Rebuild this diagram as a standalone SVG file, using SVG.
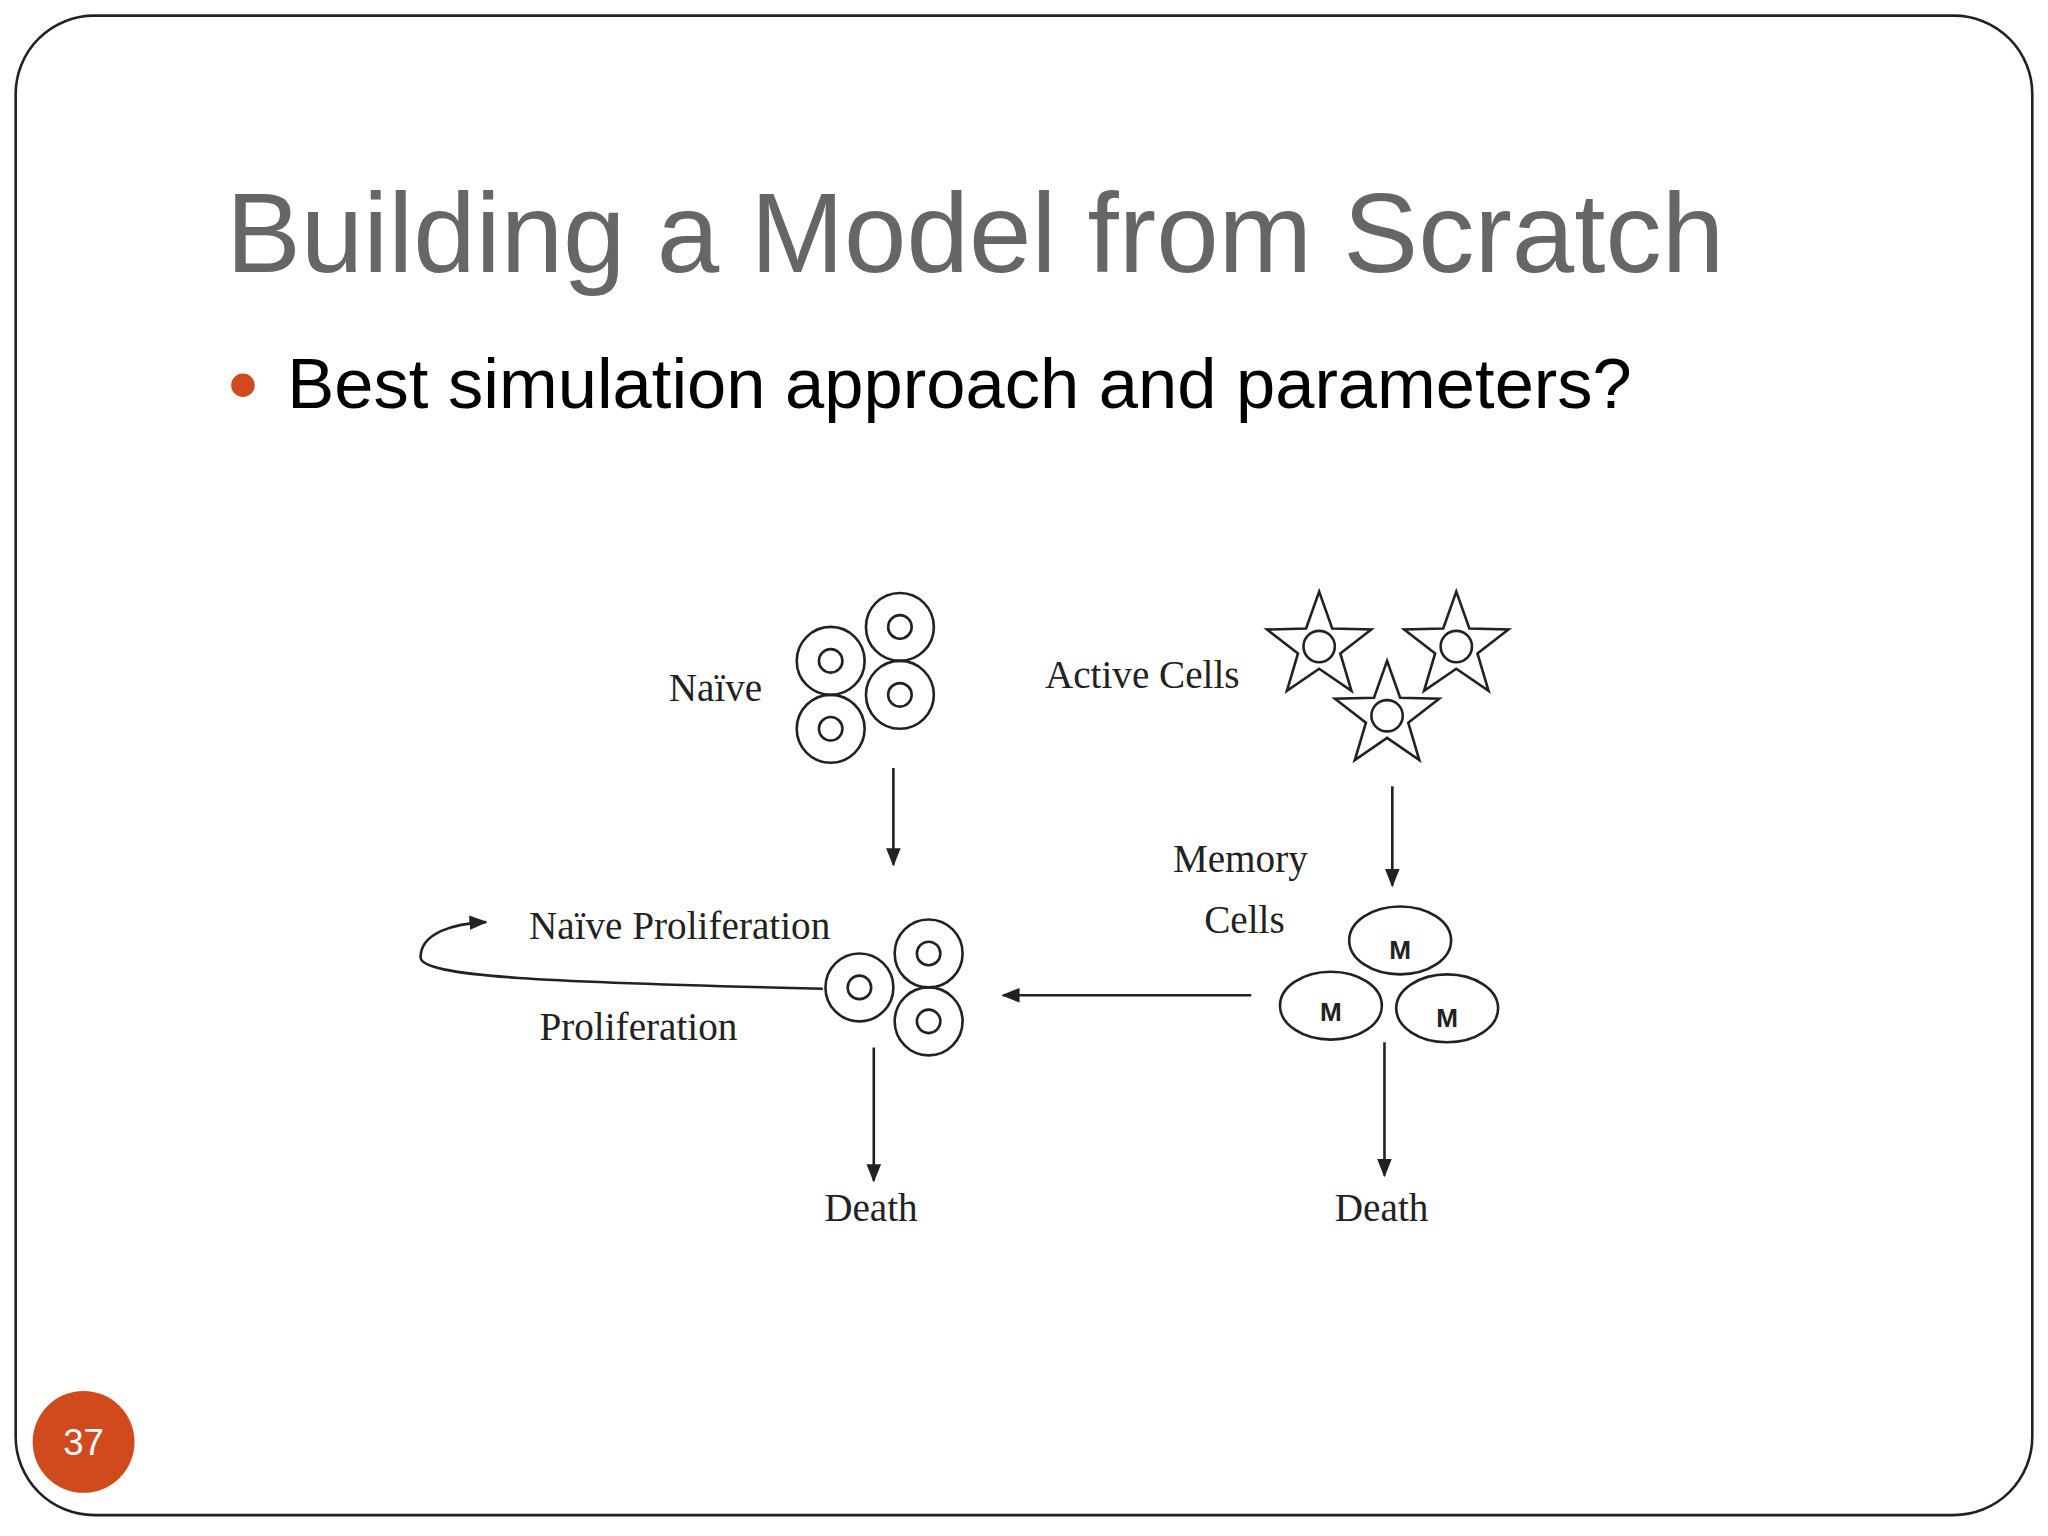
<svg xmlns="http://www.w3.org/2000/svg" width="2048" height="1536" viewBox="0 0 2048 1536">
<style>
.d{font-family:"Liberation Serif",serif;font-size:30px;fill:#222}
.c{fill:none;stroke:#222;stroke-width:2}
.l{stroke:#222;stroke-width:2;fill:none}
</style>
<defs>
<marker id="a" viewBox="0 0 10 10" refX="9" refY="5" markerWidth="7" markerHeight="7" orient="auto"><path d="M0,1 L10,5 L0,9 z" fill="#222"/></marker>
<g id="cell"><circle r="26" class="c"/><circle r="9" class="c"/></g>
<g id="star"><polygon class="c" points="0,-42 10,-13.8 39.9,-13 16.2,5.3 24.7,34 0,17 -24.7,34 -16.2,5.3 -39.9,-13 -10,-13.8"/><circle r="12" class="c"/></g>
</defs>
<rect width="2048" height="1536" fill="#fff"/>
<g transform="scale(1.3061)">
<rect x="12" y="12" width="1544" height="1148" rx="60" fill="#fff" stroke="#222" stroke-width="2"/>
<text x="173" y="208" font-family="Liberation Sans,sans-serif" font-size="86" fill="#666">Building a Model from Scratch</text>
<circle cx="186" cy="295" r="9" fill="#D04A1E"/>
<text x="220" y="312" font-family="Liberation Sans,sans-serif" font-size="54" fill="#000">Best simulation approach and parameters?</text>
<g id="page"><circle cx="64" cy="1104" r="39" fill="#D04A1E"/><text x="64" y="1114" text-anchor="middle" font-family="Liberation Sans,sans-serif" font-size="28" fill="#fff">37</text></g>
<g id="naive"><text class="d" x="512" y="537">Naïve</text>
<use href="#cell" x="636" y="506"/><use href="#cell" x="689" y="480"/><use href="#cell" x="689" y="532"/><use href="#cell" x="636" y="558"/></g>
<g id="active"><text class="d" x="800" y="527">Active Cells</text>
<use href="#star" x="1010" y="495"/><use href="#star" x="1115" y="495"/><use href="#star" x="1062" y="548"/></g>
<g id="memory"><text class="d" x="898" y="668">Memory</text><text class="d" x="922" y="714">Cells</text>
<ellipse cx="1072" cy="720" rx="39" ry="26" class="c"/><ellipse cx="1019" cy="770" rx="39" ry="26" class="c"/><ellipse cx="1108" cy="772" rx="39" ry="26" class="c"/>
<g font-family="Liberation Sans,sans-serif" font-weight="bold" font-size="20" fill="#222" text-anchor="middle"><text x="1072" y="734">M</text><text x="1019" y="782">M</text><text x="1108" y="786">M</text></g></g>
<g id="prolif"><text class="d" x="405" y="719">Naïve Proliferation</text>
<use href="#cell" x="711" y="730"/><use href="#cell" x="658" y="756"/><use href="#cell" x="711" y="782"/>
<text class="d" x="413" y="796" font-size="26">Proliferation</text></g>
<g id="death1"><text class="d" x="631" y="935" font-size="26">Death</text></g>
<g id="death2"><text class="d" x="1022" y="935" font-size="26">Death</text></g>
<g id="connectors">
<line class="l" x1="684" y1="588" x2="684" y2="662" marker-end="url(#a)"/>
<line class="l" x1="1066" y1="602" x2="1066" y2="678" marker-end="url(#a)"/>
<line class="l" x1="1060" y1="798" x2="1060" y2="900" marker-end="url(#a)"/>
<line class="l" x1="958" y1="762" x2="768" y2="762" marker-end="url(#a)"/>
<line class="l" x1="669" y1="802" x2="669" y2="904" marker-end="url(#a)"/>
<path class="l" d="M630,757 C420,752 322,748 322,733 C322,714 348,707 372,706" marker-end="url(#a)"/>
</g>
</g>
</svg>
